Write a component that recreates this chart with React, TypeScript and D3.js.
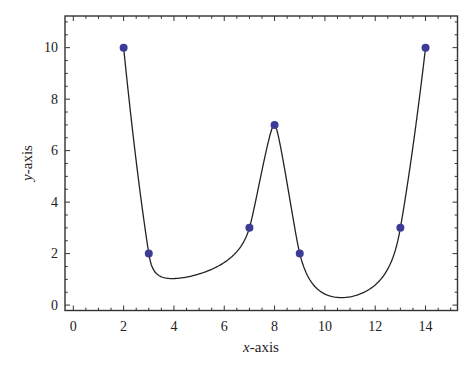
import React from "react";
import * as d3 from "d3";

const xs = [2, 3, 7, 8, 9, 13, 14];
const ys = [10, 2, 3, 7, 2, 3, 10];
// rational cubic shape parameters per interval (left, right); 3,3 = cubic Hermite
const shapeLeft = [3, 19.85, 7, 7, 7.2, 3];
const shapeRight = [3, 11.23, 7, 7, 8.2, 3];
const xTicks = [0, 2, 4, 6, 8, 10, 12, 14];
const yTicks = [0, 2, 4, 6, 8, 10];

const W = 474, H = 375;
const L = 65, R = 457.5, T = 16, B = 310.5;

// arithmetic-mean derivative estimates
function derivatives(X: number[], Y: number[]) {
  const n = X.length;
  const h = d3.range(n - 1).map(i => X[i + 1] - X[i]);
  const D = d3.range(n - 1).map(i => (Y[i + 1] - Y[i]) / h[i]);
  const d = new Array(n).fill(0);
  for (let i = 1; i < n - 1; i++) d[i] = (h[i] * D[i - 1] + h[i - 1] * D[i]) / (h[i - 1] + h[i]);
  d[0] = D[0] + (D[0] - D[1]) * h[0] / (h[0] + h[1]);
  d[n - 1] = D[n - 2] + (D[n - 2] - D[n - 3]) * h[n - 2] / (h[n - 2] + h[n - 3]);
  return { h, d };
}

function rationalSamples(X: number[], Y: number[], steps = 80): [number, number][] {
  const { h, d } = derivatives(X, Y);
  const out: [number, number][] = [];
  for (let i = 0; i < X.length - 1; i++) {
    const r0 = shapeLeft[i], r1 = shapeRight[i];
    for (let k = i === 0 ? 0 : 1; k <= steps; k++) {
      const t = k / steps, u = 1 - t;
      const p = Y[i] * u * u * u + (r0 * Y[i] + h[i] * d[i]) * t * u * u + (r1 * Y[i + 1] - h[i] * d[i + 1]) * t * t * u + Y[i + 1] * t * t * t;
      const q = u * u * u + r0 * t * u * u + r1 * t * t * u + t * t * t;
      out.push([X[i] + t * h[i], p / q]);
    }
  }
  return out;
}

export default function App() {
  const x = d3.scaleLinear().domain([-0.33, 15.27]).range([L, R]);
  const y = d3.scaleLinear().domain([-0.21, 11.23]).range([B, T]);
  const pts: [number, number][] = xs.map((v, i) => [v, ys[i]]);
  const samples = rationalSamples(xs, ys);
  const path = d3.line<[number, number]>().x(d => x(d[0])).y(d => y(d[1]))(samples) || "";
  const minor = d3.range(0, 15.01, 0.5);
  const minorY = d3.range(0, 11.01, 0.5);
  const font = "'Liberation Serif', 'DejaVu Serif', serif";
  return (
    <svg width={W} height={H} style={{ position: "absolute", left: 0, top: 0 }}>
      <rect x={0} y={0} width={W} height={H} fill="white" />
      <path d={path} fill="none" stroke="#222" strokeWidth={1.3} />
      {pts.map((p, i) => (
        <circle key={i} cx={x(p[0])} cy={y(p[1])} r={4} fill="#3c3c96" />
      ))}
      <rect x={L} y={T} width={R - L} height={B - T} fill="none" stroke="#333" strokeWidth={1.4} />
      {minor.map((v, i) => {
        const major = Math.abs(v % 2) < 1e-9;
        const len = major ? 5 : 2.8;
        return (
          <g key={"x" + i} stroke="#333" strokeWidth={1}>
            <line x1={x(v)} x2={x(v)} y1={B} y2={B - len} />
            <line x1={x(v)} x2={x(v)} y1={T} y2={T + len} />
          </g>
        );
      })}
      {minorY.map((v, i) => {
        const major = Math.abs(v % 2) < 1e-9;
        const len = major ? 5 : 2.8;
        return (
          <g key={"y" + i} stroke="#333" strokeWidth={1}>
            <line x1={L} x2={L + len} y1={y(v)} y2={y(v)} />
            <line x1={R} x2={R - len} y1={y(v)} y2={y(v)} />
          </g>
        );
      })}
      {xTicks.map(v => (
        <text key={"xt" + v} x={x(v)} y={331} textAnchor="middle" fontFamily={font} fontSize={14} fill="#222">{v}</text>
      ))}
      {yTicks.map(v => (
        <text key={"yt" + v} x={58} y={y(v) + 4.5} textAnchor="end" fontFamily={font} fontSize={14} fill="#222">{v}</text>
      ))}
      <text x={261} y={352} textAnchor="middle" fontFamily={font} fontSize={15} fill="#222">
        <tspan fontStyle="italic">x</tspan>-axis
      </text>
      <text transform={`translate(32,163) rotate(-90)`} textAnchor="middle" fontFamily={font} fontSize={15} fill="#222">
        <tspan fontStyle="italic">y</tspan>-axis
      </text>
    </svg>
  );
}
